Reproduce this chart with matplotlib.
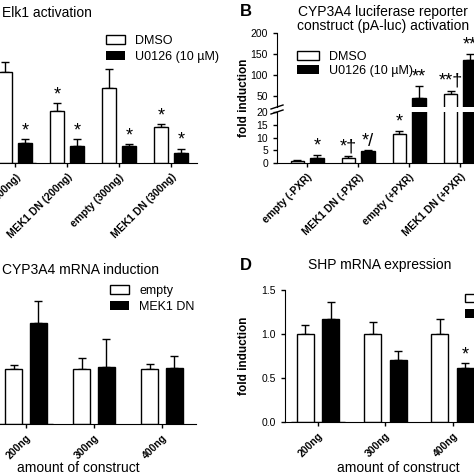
import numpy as np
import matplotlib
matplotlib.use("Agg")
import matplotlib.pyplot as plt

plt.rcParams['font.family'] = ['Liberation Sans', 'DejaVu Sans']

# ---- data ----
a_labels = ["empty (200ng)", "MEK1 DN (200ng)", "empty (300ng)", "MEK1 DN (300ng)"]
a_dmso = [0.96, 0.55, 0.79, 0.38]
a_dmso_err = [0.10, 0.08, 0.20, 0.03]
a_u0126 = [0.21, 0.18, 0.18, 0.105]
a_u0126_err = [0.04, 0.07, 0.015, 0.045]
a_dmso_sig = ["", "*", "", "*"]
a_u0126_sig = ["*", "*", "*", "*"]

b_labels = ["empty (-PXR)", "MEK1 DN (-PXR)", "empty (+PXR)", "MEK1 DN (+PXR)"]
b_dmso = [0.8, 1.8, 11.5, 55]
b_dmso_err = [0.2, 1.0, 1.0, 8]
b_u0126 = [2.0, 4.8, 45, 135]
b_u0126_err = [1.3, 0.2, 28, 15]
b_dmso_sig = ["", "*\u2020", "*", "**\u2020"]
b_u0126_sig = ["*", "*/", "**", "**"]

c_labels = ["200ng", "300ng", "400ng"]
c_empty = [1.0, 1.0, 1.0]
c_empty_err = [0.07, 0.2, 0.09]
c_mek = [1.85, 1.04, 1.02]
c_mek_err = [0.39, 0.51, 0.23]

d_labels = ["200ng", "300ng", "400ng"]
d_empty = [1.0, 1.0, 1.0]
d_empty_err = [0.1, 0.14, 0.17]
d_mek = [1.17, 0.71, 0.61]
d_mek_err = [0.19, 0.10, 0.06]
d_mek_sig = ["", "", "*"]

W = 474.0
fig = plt.figure(figsize=(4.74, 4.74), dpi=100)


def ax_px(l, t, r, b):
    return fig.add_axes([l / W, 1 - b / W, (r - l) / W, (b - t) / W])


def style(ax):
    for s in ["top", "right"]:
        ax.spines[s].set_visible(False)
    ax.tick_params(labelsize=7.5, length=3, width=1)


def bars(ax, x, vals, errs, color, width):
    ax.bar(x, vals, width, color=color, edgecolor="black", linewidth=1, zorder=2)
    ax.errorbar(x, vals, yerr=[np.zeros(len(vals)), errs], fmt="none",
                ecolor="black", elinewidth=1, capsize=3, capthick=1, zorder=1)


def stars(ax, x, vals, errs, sig, pad):
    for xi, v, e, s in zip(x, vals, errs, sig):
        if s:
            ax.text(xi, v + e + pad, s, ha="center", va="bottom", fontsize=13)


def xlabels(ax, labels):
    ax.set_xticks(np.arange(len(labels)))
    ax.set_xticklabels(labels, rotation=45, ha="right", rotation_mode="anchor",
                       fontsize=7.5, fontweight="bold")


# ---- A ----
ax = ax_px(-30, 30, 197, 163)
style(ax)
g = np.arange(4)
bars(ax, g - 0.19, a_dmso, a_dmso_err, "white", 0.27)
bars(ax, g + 0.19, a_u0126, a_u0126_err, "black", 0.27)
stars(ax, g - 0.19, a_dmso, a_dmso_err, a_dmso_sig, 0.0)
stars(ax, g + 0.19, a_u0126, a_u0126_err, a_u0126_sig, 0.0)
ax.set_xlim(-0.87, 3.5)
ax.set_ylim(0, 1.4)
xlabels(ax, a_labels)
ax.bar([0], [0], color="white", edgecolor="black", label="DMSO")
ax.bar([0], [0], color="black", label="U0126 (10 \u00b5M)")
ax.legend(loc="upper left", bbox_to_anchor=(0.56, 1.03), frameon=False, fontsize=9,
          handlelength=1.5, handleheight=0.7, borderpad=0.2, labelspacing=0.3)
fig.text(2 / W, 1 - 13 / W, "Elk1 activation", fontsize=10, va="center")

# ---- B (broken axis) ----
b_lo = ax_px(277, 112, 500, 163)
b_hi = ax_px(277, 33, 500, 107)
for axb in (b_lo, b_hi):
    style(axb)
    bars(axb, g - 0.19, b_dmso, b_dmso_err, "white", 0.27)
    bars(axb, g + 0.19, b_u0126, b_u0126_err, "black", 0.27)
    axb.set_xlim(-0.59, 3.78)
b_lo.set_ylim(0, 20)
b_lo.set_yticks([0, 5, 10, 15, 20])
b_hi.set_ylim(23.8, 200)
b_hi.set_yticks([50, 100, 150, 200])
b_hi.spines["bottom"].set_visible(False)
b_hi.set_xticks([])
for xs, vals, errs, sig in ((g - 0.19, b_dmso, b_dmso_err, b_dmso_sig),
                            (g + 0.19, b_u0126, b_u0126_err, b_u0126_sig)):
    for xi, v, e, s in zip(xs, vals, errs, sig):
        if s:
            low = v + e < 18
            (b_lo if low else b_hi).text(xi, v + e + (0.2 if low else 2), s,
                                         ha="center", va="bottom", fontsize=13)
xlabels(b_lo, b_labels)
b_hi.bar([0], [0], color="white", edgecolor="black", label="DMSO")
b_hi.bar([0], [0], color="black", label="U0126 (10 \u00b5M)")
b_hi.legend(loc="upper left", bbox_to_anchor=(0.05, 0.88), frameon=False, fontsize=9,
            handlelength=1.8, handleheight=0.7, borderpad=0.2, labelspacing=0.2)
kw = dict(color="black", lw=1, clip_on=False, transform=fig.transFigure)
for yy in (107, 112):
    fig.add_artist(plt.Line2D([271 / W, 283 / W], [1 - (yy + 2) / W, 1 - (yy - 2) / W], **kw))
fig.text(244 / W, 1 - 98 / W, "fold induction", rotation=90, fontsize=8.5,
         fontweight="bold", ha="center", va="center")
fig.text(240 / W, 1 - 12 / W, "B", fontsize=12, fontweight="bold", va="center")
fig.text(383 / W, 1 - 5 / W, "CYP3A4 luciferase reporter\nconstruct (pA-luc) activation",
         fontsize=10, ha="center", va="top", linespacing=1.0)

# ---- C ----
ax = ax_px(-40, 287, 196, 424)
style(ax)
g3 = np.arange(3)
bars(ax, g3 - 0.18, c_empty, c_empty_err, "white", 0.25)
bars(ax, g3 + 0.18, c_mek, c_mek_err, "black", 0.25)
ax.set_xlim(-0.97, 2.5)
ax.set_ylim(0, 2.5)
xlabels(ax, c_labels)
ax.bar([0], [0], color="white", edgecolor="black", label="empty")
ax.bar([0], [0], color="black", label="MEK1 DN")
ax.legend(loc="upper left", bbox_to_anchor=(0.6, 1.08), frameon=False, fontsize=9,
          handlelength=1.5, handleheight=0.7, borderpad=0.2, labelspacing=0.3)
fig.text(78 / W, 1 - 468 / W, "amount of construct", fontsize=10, ha="center", va="center")
fig.text(2 / W, 1 - 270 / W, "CYP3A4 mRNA induction", fontsize=10, va="center")

# ---- D ----
ax = ax_px(285, 290, 520, 422)
style(ax)
bars(ax, g3 - 0.19, d_empty, d_empty_err, "white", 0.25)
bars(ax, g3 + 0.19, d_mek, d_mek_err, "black", 0.25)
stars(ax, g3 + 0.19, d_mek, d_mek_err, d_mek_sig, 0.0)
ax.set_xlim(-0.49, 3.0)
ax.set_ylim(0, 1.5)
ax.set_yticks([0.0, 0.5, 1.0, 1.5])
ax.set_yticklabels(["0.0", "0.5", "1.0", "1.5"])
xlabels(ax, d_labels)
ax.bar([0], [0], color="white", edgecolor="black", label="empty")
ax.bar([0], [0], color="black", label="MEK1 DN")
ax.legend(loc="upper left", bbox_to_anchor=(0.73, 1.04), frameon=False, fontsize=9,
          handlelength=1.5, handleheight=0.7, borderpad=0.2, labelspacing=0.3)
fig.text(398 / W, 1 - 468 / W, "amount of construct", fontsize=10, ha="center", va="center")
fig.text(244 / W, 1 - 356 / W, "fold induction", rotation=90, fontsize=8.5,
         fontweight="bold", ha="center", va="center")
fig.text(240 / W, 1 - 265 / W, "D", fontsize=12, fontweight="bold", va="center")
fig.text(380 / W, 1 - 265 / W, "SHP mRNA expression", fontsize=10, ha="center", va="center")

fig.savefig("out.png", dpi=100)
